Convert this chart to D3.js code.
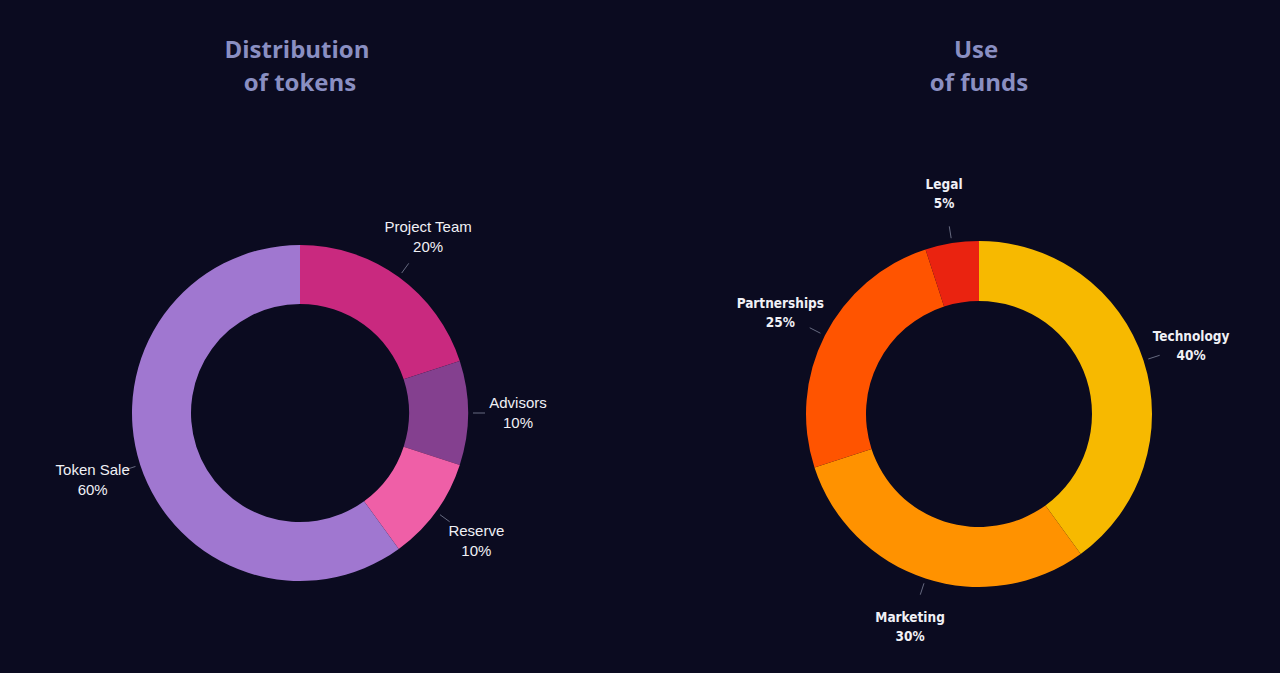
<!DOCTYPE html><html><head><meta charset="utf-8"><script src="https://cdn.jsdelivr.net/npm/d3@7"></script>
<style>body{margin:0;background:#0b0b20;}svg{display:block}</style></head><body><svg id="c" width="1280" height="673"></svg>
<script>
const tokenLabels=["Project Team","Advisors","Reserve","Token Sale"];
const tokenValues=[20,10,10,60];
const tokenColors=["#c9297f","#84408f","#ef5fa7","#a077d0"];
const fundLabels=["Technology","Marketing","Partnerships","Legal"];
const fundValues=[40,30,25,5];
const fundColors=["#f7b900","#ff9200","#ff5400","#ea2310"];
const svg=d3.select("#c");
svg.append("rect").attr("width",1280).attr("height",673).attr("fill","#0b0b20");
function title(x,lines){
  const t=svg.append("text").attr("x",x).attr("y",58).attr("text-anchor","middle")
   .attr("fill","#8a8fc2").attr("font-family","Open Sans").attr("font-weight",700).attr("font-size",24);
  lines.forEach((l,i)=>t.append("tspan").attr("x",x+(i?3:0)).attr("dy",i?33:0).text(l));
}
title(297,["Distribution","of tokens"]);
title(976,["Use","of funds"]);
function donut(cx,cy,ro,ri,labels,values,colors,font,weight,fsize,lh){
  const g=svg.append("g").attr("transform",`translate(${cx},${cy})`);
  const arcs=d3.pie().sort(null)(values);
  const arc=d3.arc().innerRadius(ri).outerRadius(ro);
  g.selectAll("path").data(arcs).join("path").attr("d",arc).attr("fill",(d,i)=>colors[i]);
  arcs.forEach((d,i)=>{
    const a=(d.startAngle+d.endAngle)/2;
    const p=r=>[Math.sin(a)*r,-Math.cos(a)*r];
    const [x1,y1]=p(ro+5),[x2,y2]=p(ro+17),[lx,ly]=p(ro+50);
    g.append("line").attr("x1",x1).attr("y1",y1).attr("x2",x2).attr("y2",y2).attr("stroke","#666a80").attr("stroke-width",1);
    const t=g.append("text").attr("text-anchor","middle").attr("fill","#f0f0f5")
      .attr("font-family",font).attr("font-weight",weight).attr("font-size",fsize);
    t.append("tspan").attr("x",lx).attr("y",ly-lh/2+5).text(labels[i]);
    t.append("tspan").attr("x",lx).attr("y",ly+lh/2+5).text(values[i]+"%");
  });
}
donut(300,413,168,109,tokenLabels,tokenValues,tokenColors,"Liberation Sans",400,15,20);
donut(979,414,173,113,fundLabels,fundValues,fundColors,"DejaVu Sans Condensed",700,13.5,19);
</script></body></html>
